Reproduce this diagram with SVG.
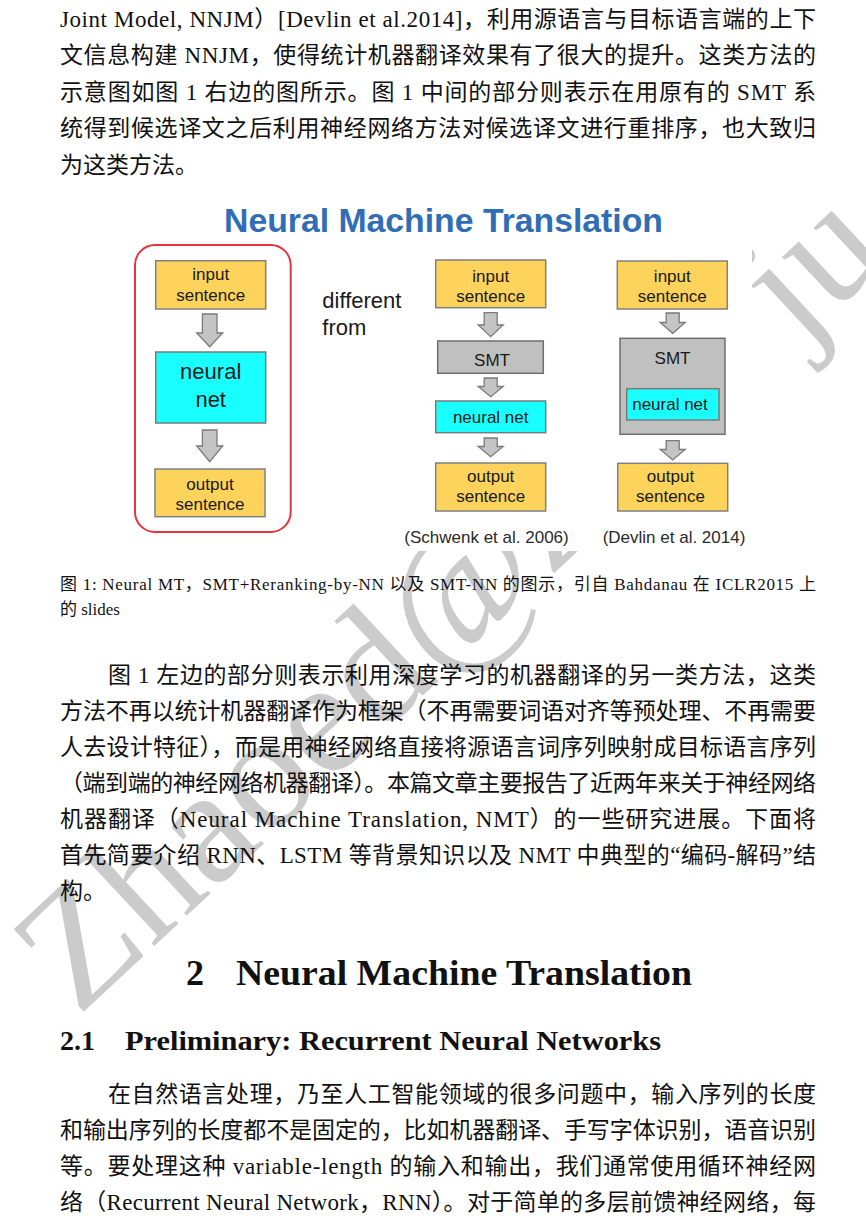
<svg xmlns="http://www.w3.org/2000/svg" width="866" height="1223" viewBox="0 0 866 1223">
<style>
.body{font-family:"Liberation Serif","Noto Sans CJK SC",serif;font-size:23px;fill:#111}
.cap{font-family:"Liberation Serif","Noto Sans CJK SC",serif;font-size:17px;fill:#111}
.h{font-family:"Liberation Serif",serif;font-weight:bold;fill:#111}
.fig{font-family:"Liberation Sans","Noto Sans",sans-serif;fill:#1a1a1a;text-anchor:middle}
.yel{fill:#fdd35b;stroke:#808080;stroke-width:1.5}
.cyan{fill:#19ffff;stroke:#7a7a7a;stroke-width:1.5}
.gray{fill:#c0c0c0;stroke:#6e6e6e;stroke-width:1.5}
.arr{fill:#c4c4c4;stroke:#7a7a7a;stroke-width:1.3}
.wm{font-family:"Liberation Serif",serif;font-size:165px;fill:#cbcbcb}
</style>
<rect width="866" height="1223" fill="#fff"/>
<g id="watermark">
<text class="wm" transform="translate(78,1017) rotate(-43)">Zhaoed@z<tspan dx="265">ju</tspan></text>
</g>
<g id="text-top">
<text class="body" x="60" y="26.5" textLength="756" lengthAdjust="spacing">Joint Model, NNJM）[Devlin et al.2014]，利用源语言与目标语言端的上下</text>
<text class="body" x="60" y="63" textLength="756" lengthAdjust="spacing">文信息构建 NNJM，使得统计机器翻译效果有了很大的提升。这类方法的</text>
<text class="body" x="60" y="99.5" textLength="756" lengthAdjust="spacing">示意图如图 1 右边的图所示。图 1 中间的部分则表示在用原有的 SMT 系</text>
<text class="body" x="60" y="136" textLength="756" lengthAdjust="spacing">统得到候选译文之后利用神经网络方法对候选译文进行重排序，也大致归</text>
<text class="body" x="60" y="172.5">为这类方法。</text>
</g>
<g id="figure">
<rect x="128" y="194" width="624" height="357" fill="#fff"/>
<text x="224" y="232" textLength="439" lengthAdjust="spacingAndGlyphs" style="font-family:'Liberation Sans',sans-serif;font-weight:bold;font-size:33.5px;fill:#2f6eb5">Neural Machine Translation</text>
<rect id="nmt-frame" x="135" y="245" width="155.7" height="287" rx="20" fill="none" stroke="#e8323c" stroke-width="2"/>
<text class="fig" x="322.3" y="308" style="font-size:22px;text-anchor:start">different</text>
<text class="fig" x="322.3" y="335" style="font-size:22px;text-anchor:start">from</text>
<g id="l-input"><rect class="yel" x="155.7" y="260.7" width="110" height="48.3"/><text class="fig" x="210.7" y="280" font-size="17">input</text><text class="fig" x="210.7" y="300.7" font-size="17">sentence</text></g>
<g id="l-nn"><rect class="cyan" x="155.7" y="352" width="110" height="71"/><text class="fig" x="210.7" y="379" font-size="22">neural</text><text class="fig" x="210.7" y="406.7" font-size="22">net</text></g>
<g id="l-output"><rect class="yel" x="155" y="469" width="110" height="47.7"/><text class="fig" x="210" y="490" font-size="17">output</text><text class="fig" x="210" y="510" font-size="17">sentence</text></g>
<g id="m-input"><rect class="yel" x="435.7" y="260" width="110" height="47.7"/><text class="fig" x="490.7" y="281.5" font-size="17">input</text><text class="fig" x="490.7" y="301.7" font-size="17">sentence</text></g>
<g id="m-smt"><rect class="gray" x="437.7" y="341" width="105.6" height="32.3"/><text class="fig" x="492" y="365.5" font-size="17">SMT</text></g>
<g id="m-nn"><rect class="cyan" x="435.7" y="401" width="110" height="31.7"/><text class="fig" x="490.7" y="423.3" font-size="17">neural net</text></g>
<g id="m-output"><rect class="yel" x="435.7" y="463" width="110" height="48"/><text class="fig" x="490.7" y="482" font-size="17">output</text><text class="fig" x="490.7" y="502" font-size="17">sentence</text></g>
<g id="r-input"><rect class="yel" x="617.3" y="261" width="110" height="48"/><text class="fig" x="672.3" y="282.3" font-size="17">input</text><text class="fig" x="672.3" y="302.3" font-size="17">sentence</text></g>
<g id="r-smt"><rect class="gray" x="620" y="338.3" width="105" height="96"/><text class="fig" x="672.5" y="364" font-size="17">SMT</text>
<g id="r-nn"><rect class="cyan" x="626.7" y="388.7" width="92.3" height="31.3"/><text class="fig" x="670" y="410" font-size="17">neural net</text></g></g>
<g id="r-output"><rect class="yel" x="617.7" y="463.3" width="110" height="47.7"/><text class="fig" x="670.5" y="482.3" font-size="17">output</text><text class="fig" x="670.5" y="502.3" font-size="17">sentence</text></g>
<text class="fig" x="486.5" y="543" font-size="17" style="fill:#2a2a2a">(Schwenk et al. 2006)</text>
<text class="fig" x="674" y="543" font-size="17" style="fill:#2a2a2a">(Devlin et al. 2014)</text>
</g>
<g id="connectors">
<path class="arr" d="M202.4,314 H217 V333 H222.7 L209.7,346.7 L196.7,333 H202.4 Z"/>
<path class="arr" d="M202.4,430 H217 V446 H222.7 L209.7,461.7 L196.7,446 H202.4 Z"/>
<path class="arr" d="M484.2,312.7 H497.2 V325 H503.2 L490.7,336.7 L478.2,325 H484.2 Z"/>
<path class="arr" d="M484.2,378 H497.2 V386.5 H503.2 L490.7,396.7 L478.2,386.5 H484.2 Z"/>
<path class="arr" d="M484.2,438 H497.2 V446.5 H503.2 L490.7,456.7 L478.2,446.5 H484.2 Z"/>
<path class="arr" d="M666.2,313 H679.2 V322.5 H685.2 L672.7,333.3 L660.2,322.5 H666.2 Z"/>
<path class="arr" d="M666.2,440.7 H679.2 V449.5 H685.2 L672.7,460 L660.2,449.5 H666.2 Z"/>
</g>
<g id="caption">
<text class="cap" x="60" y="590" textLength="756" lengthAdjust="spacing">图 1: Neural MT，SMT+Reranking-by-NN 以及 SMT-NN 的图示，引自 Bahdanau 在 ICLR2015 上</text>
<text class="cap" x="60" y="615">的 slides</text>
</g>
<g id="text-mid">
<text class="body" x="108" y="683" textLength="708" lengthAdjust="spacing">图 1 左边的部分则表示利用深度学习的机器翻译的另一类方法，这类</text>
<text class="body" x="60" y="719" textLength="756" lengthAdjust="spacing">方法不再以统计机器翻译作为框架（不再需要词语对齐等预处理、不再需要</text>
<text class="body" x="60" y="755" textLength="756" lengthAdjust="spacing">人去设计特征），而是用神经网络直接将源语言词序列映射成目标语言序列</text>
<text class="body" x="60" y="791" textLength="756" lengthAdjust="spacing">（端到端的神经网络机器翻译）。本篇文章主要报告了近两年来关于神经网络</text>
<text class="body" x="60" y="827" textLength="756" lengthAdjust="spacing">机器翻译（Neural Machine Translation, NMT）的一些研究进展。下面将</text>
<text class="body" x="60" y="863" textLength="756" lengthAdjust="spacing">首先简要介绍 RNN、LSTM 等背景知识以及 NMT 中典型的“编码-解码”结</text>
<text class="body" x="60" y="899">构。</text>
</g>
<g id="headings">
<text class="h" x="186" y="985" font-size="36">2</text>
<text class="h" x="236" y="985" font-size="36" textLength="456" lengthAdjust="spacingAndGlyphs">Neural Machine Translation</text>
<text class="h" x="60" y="1050" font-size="28">2.1</text>
<text class="h" x="125" y="1050" font-size="28" textLength="536" lengthAdjust="spacingAndGlyphs">Preliminary: Recurrent Neural Networks</text>
</g>
<g id="text-bottom">
<text class="body" x="108" y="1102" textLength="708" lengthAdjust="spacing">在自然语言处理，乃至人工智能领域的很多问题中，输入序列的长度</text>
<text class="body" x="60" y="1138" textLength="756" lengthAdjust="spacing">和输出序列的长度都不是固定的，比如机器翻译、手写字体识别，语音识别</text>
<text class="body" x="60" y="1174" textLength="756" lengthAdjust="spacing">等。要处理这种 variable-length 的输入和输出，我们通常使用循环神经网</text>
<text class="body" x="60" y="1210" textLength="756" lengthAdjust="spacing">络（Recurrent Neural Network，RNN）。对于简单的多层前馈神经网络，每</text>
</g>
</svg>
